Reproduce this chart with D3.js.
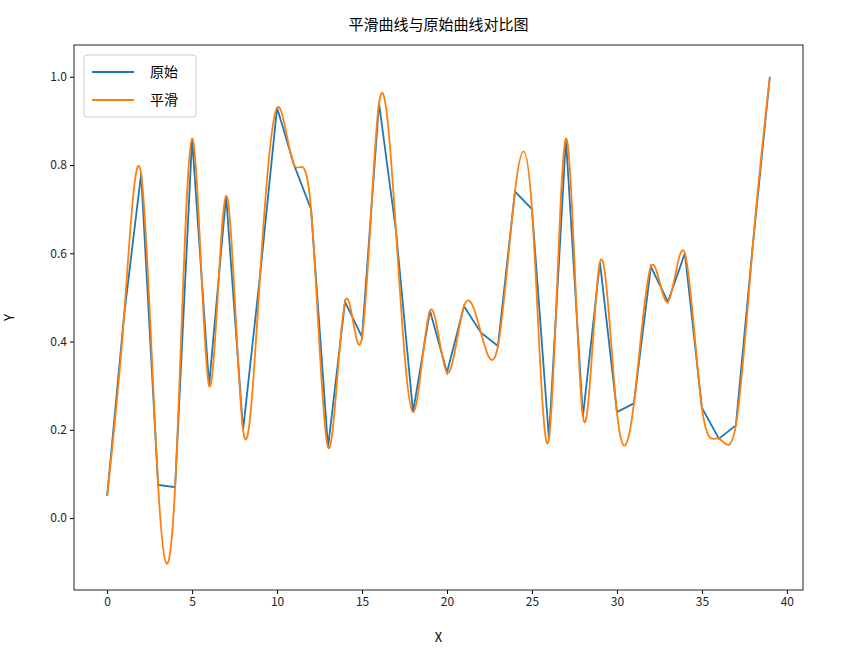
<!DOCTYPE html><html><head><meta charset="utf-8"><script src="https://cdn.jsdelivr.net/npm/d3@7"></script>
<style>body{margin:0;background:#fff}text{font-family:"Noto Sans CJK SC","DejaVu Sans",sans-serif}</style></head><body><svg id="c" width="854" height="654"></svg>
<script>
const xs = d3.range(40);
const original = [0.05,0.46,0.78,0.075,0.07,0.86,0.30,0.73,0.20,0.55,0.93,0.80,0.70,0.16,0.49,0.41,0.94,0.65,0.24,0.47,0.33,0.48,0.42,0.39,0.74,0.70,0.18,0.86,0.23,0.58,0.24,0.26,0.57,0.49,0.60,0.25,0.18,0.21,0.62,1.00];
const xTicks = [0,5,10,15,20,25,30,35,40];
const yTicks = [0.0,0.2,0.4,0.6,0.8,1.0];
const svg = d3.select("#c");
const L=74,R=803,T=45,B=590;
const x = d3.scaleLinear().domain([-1.95,40.95]).range([L,R]);
const y = d3.scaleLinear().domain([-0.163,1.072]).range([B,T]);
const data = xs.map((v,i)=>[v,original[i]]);
svg.append("g").attr("transform",`translate(0,${B})`).call(d3.axisBottom(x).tickValues(xTicks).tickSize(4).tickFormat(d3.format("d")))
 .call(g=>{g.select(".domain").remove();g.selectAll("text").attr("font-size",12).attr("fill","#222");});
svg.append("g").attr("transform",`translate(${L},0)`).call(d3.axisLeft(y).tickValues(yTicks).tickSize(4).tickFormat(d3.format(".1f")))
 .call(g=>{g.select(".domain").remove();g.selectAll("text").attr("font-size",12).attr("fill","#222");});
const line = d3.line().x(d=>x(d[0])).y(d=>y(d[1]));
svg.append("path").datum(data).attr("d",line).attr("fill","none").attr("stroke","#1f77b4").attr("stroke-width",1.8);
svg.append("path").datum(data).attr("d",line.curve(d3.curveNatural)).attr("fill","none").attr("stroke","#ff7f0e").attr("stroke-width",1.8);
svg.append("rect").attr("x",L).attr("y",T).attr("width",R-L).attr("height",B-T).attr("fill","none").attr("stroke","#222").attr("stroke-width",1);
svg.append("text").attr("x",(L+R)/2).attr("y",30).attr("text-anchor","middle").attr("font-size",15).text("平滑曲线与原始曲线对比图");
svg.append("text").attr("x",(L+R)/2).attr("y",642).attr("text-anchor","middle").attr("font-size",13).text("X");
svg.append("text").attr("transform",`translate(14,${(T+B)/2}) rotate(-90)`).attr("text-anchor","middle").attr("font-size",13).text("Y");
const lg = svg.append("g").attr("transform","translate(84,55)");
lg.append("rect").attr("width",112).attr("height",62).attr("rx",3).attr("fill","#fff").attr("stroke","#ccc");
[["原始","#1f77b4"],["平滑","#ff7f0e"]].forEach(([t,c],i)=>{
 lg.append("line").attr("x1",8).attr("x2",50).attr("y1",17+i*28).attr("y2",17+i*28).attr("stroke",c).attr("stroke-width",1.8);
 lg.append("text").attr("x",66).attr("y",22+i*28).attr("font-size",14).text(t);
});
</script></body></html>
